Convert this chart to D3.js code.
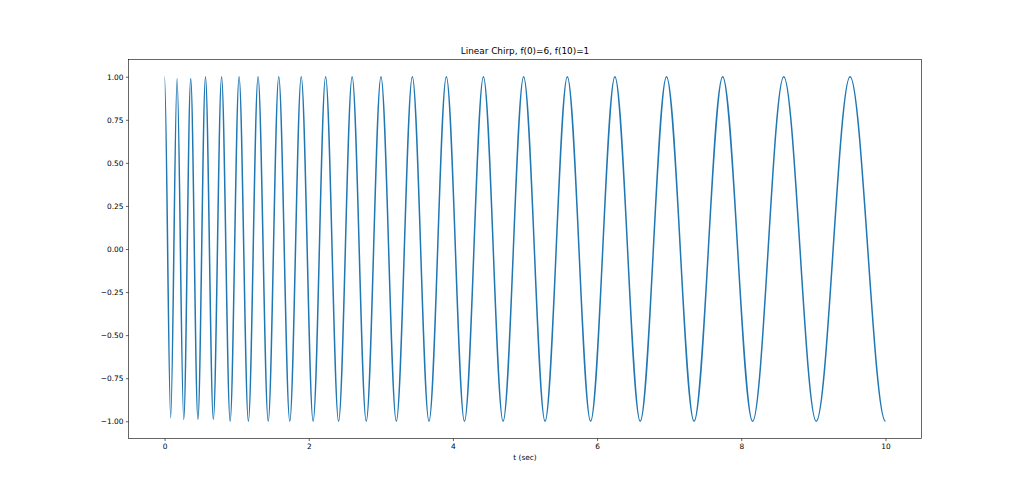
<!DOCTYPE html>
<html>
<head>
<meta charset="utf-8">
<script src="https://cdn.jsdelivr.net/npm/d3@7"></script>
<style>
  html, body { margin: 0; padding: 0; background: #fff; }
  svg { display: block; }
  text { font-family: "DejaVu Sans", sans-serif; fill: #000; }
</style>
</head>
<body>
<svg id="chart" width="1024" height="492"></svg>
<script>
// Peak / trough positions of the chirp signal (t in seconds)
const extremaT = [0, 0.085, 0.174, 0.266, 0.363, 0.463, 0.568, 0.677, 0.791, 0.910,
  1.034, 1.163, 1.297, 1.438, 1.584, 1.737, 1.896, 2.061, 2.234, 2.414,
  2.602, 2.798, 3.002, 3.215, 3.437, 3.668, 3.909, 4.160, 4.423, 4.696,
  4.981, 5.278, 5.587, 5.910, 6.247, 6.598, 6.963, 7.345, 7.742, 8.157,
  8.589, 9.040, 9.509, 10.0];
const extremaY = [1.0, -0.98, 0.99, -0.99, 0.99, -0.99, 1.0, -0.99, 1.0, -1.0,
  1.0, -1.0, 1.0, -1.0, 1.0, -1.0, 1.0, -1.0, 1.0, -1.0,
  1.0, -1.0, 1.0, -1.0, 1.0, -1.0, 1.0, -1.0, 1.0, -1.0,
  1.0, -1.0, 1.0, -1.0, 1.0, -1.0, 1.0, -1.0, 1.0, -1.0,
  1.0, -1.0, 1.0, -1.0];
const xTicks = [0, 2, 4, 6, 8, 10];
const yTicks = [-1.0, -0.75, -0.5, -0.25, 0.0, 0.25, 0.5, 0.75, 1.0];
const titleText = "Linear Chirp, f(0)=6, f(10)=1";
const xLabelText = "t (sec)";

const svg = d3.select("#chart");
const L = 128.5, R = 921.5, T = 59.5, B = 438.5;

const x = d3.scaleLinear().domain([-0.5, 10.5]).range([L, R]);
const y = d3.scaleLinear().domain([-1.1, 1.1]).range([B, T]);

const data = extremaT.map((t, i) => ({ t, v: extremaY[i] }));

// curve through extrema with a horizontal tangent at every peak / trough
function curveExtrema(context) {
  return {
    areaStart() {}, areaEnd() {},
    lineStart() { this._p = 0; },
    lineEnd() {},
    point(px, py) {
      if (this._p === 0) { context.moveTo(px, py); this._p = 1; }
      else {
        const h = (px - this._x) / 3;
        context.bezierCurveTo(this._x + h, this._y, px - h, py, px, py);
      }
      this._x = px; this._y = py;
    }
  };
}

const line = d3.line()
  .x(d => x(d.t))
  .y(d => y(d.v))
  .curve(curveExtrema);

svg.append("path")
  .datum(data)
  .attr("d", line)
  .attr("fill", "none")
  .attr("stroke", "#1f77b4")
  .attr("stroke-width", 1.5)
  .attr("stroke-linejoin", "round")
  .attr("stroke-linecap", "butt");

// axes
const xAxis = d3.axisBottom(x).tickValues(xTicks).tickFormat(d3.format("d"))
  .tickSize(2.6).tickPadding(2.5);
const yAxis = d3.axisLeft(y).tickValues(yTicks).tickFormat(d => d3.format(".2f")(d).replace("-", "\u2212"))
  .tickSize(2.6).tickPadding(2.5);

const gx = svg.append("g").attr("transform", `translate(0,${B})`).call(xAxis);
const gy = svg.append("g").attr("transform", `translate(${L},0)`).call(yAxis);
[gx, gy].forEach(g => {
  g.select(".domain").remove();
  g.selectAll(".tick line").attr("stroke", "#000").attr("stroke-width", 0.6);
  g.selectAll(".tick text").attr("font-size", 7.4).attr("font-family", "DejaVu Sans").attr("fill", "#000");
});

// frame
svg.append("rect")
  .attr("x", L).attr("y", T).attr("width", R - L).attr("height", B - T)
  .attr("fill", "none").attr("stroke", "#000").attr("stroke-width", 0.6);

svg.append("text")
  .attr("x", (L + R) / 2).attr("y", 54)
  .attr("text-anchor", "middle")
  .attr("font-size", 8.9)
  .text(titleText);

svg.append("text")
  .attr("x", (L + R) / 2).attr("y", 460)
  .attr("text-anchor", "middle")
  .attr("font-size", 7.4)
  .text(xLabelText);
</script>
</body>
</html>
